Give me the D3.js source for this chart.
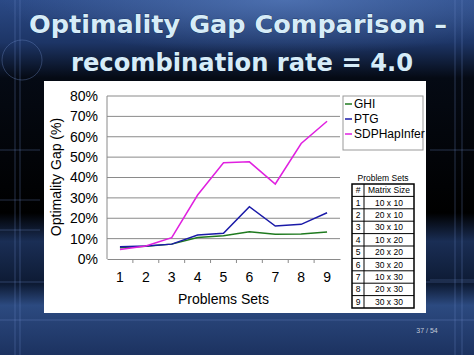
<!DOCTYPE html>
<html><head><meta charset="utf-8">
<script src="https://cdn.jsdelivr.net/npm/d3@7"></script>
<style>html,body{margin:0;padding:0;background:#000;}svg{display:block;}</style>
</head><body>
<svg id="c" width="474" height="355"></svg>
<script>
const categories = ["1","2","3","4","5","6","7","8","9"];
const seriesNames = ["GHI","PTG","SDPHapInfer"];
const ghi = [5.5, 6.3, 7.3, 10.6, 11.4, 13.4, 12.1, 12.3, 13.3];
const ptg = [6.0, 6.4, 7.3, 11.8, 12.6, 25.7, 16.2, 17.0, 22.7];
const sdp = [4.7, 6.4, 10.5, 31.4, 47.2, 47.7, 36.8, 56.7, 67.6];
const yTicks = [0, 10, 20, 30, 40, 50, 60, 70, 80];
const tableIds = ["1","2","3","4","5","6","7","8","9"];
const matrixSizes = ["10 x 10","20 x 10","30 x 10","10 x 20","20 x 20","30 x 20","10 x 30","20 x 30","30 x 30"];

const svg = d3.select("#c");
const W = 474, H = 355;
const defs = svg.append("defs");
const bg = defs.append("linearGradient").attr("id","bg").attr("x1",0).attr("y1",0).attr("x2",0).attr("y2",1);
[[0,"#2b4a86"],[0.12,"#1d3566"],[0.22,"#050a14"],[0.6,"#000000"],[0.68,"#1a2e55"],[0.8,"#0d1a33"],[0.86,"#2c4a80"],[1,"#1c3260"]]
  .forEach(s=>bg.append("stop").attr("offset",s[0]).attr("stop-color",s[1]));
svg.append("rect").attr("width",W).attr("height",H).attr("fill","url(#bg)");
const glow = defs.append("radialGradient").attr("id","glow").attr("cx",0.6).attr("cy",0).attr("r",0.6);
glow.append("stop").attr("offset",0).attr("stop-color","#5a7fc0").attr("stop-opacity",0.7);
glow.append("stop").attr("offset",1).attr("stop-color","#5a7fc0").attr("stop-opacity",0);
svg.append("rect").attr("width",W).attr("height",90).attr("fill","url(#glow)");
// faint decorative lines
const deco = svg.append("g").attr("stroke","#6f8cc8").attr("stroke-opacity",0.35).attr("stroke-width",1).attr("fill","none");
[15,20,455,462].forEach(x=>deco.append("line").attr("x1",x).attr("x2",x).attr("y1",0).attr("y2",H));
[[0,40,150],[0,40,200],[0,40,230],[430,474,150],[430,474,280],[0,474,282],[0,474,320]].forEach(l=>deco.append("line").attr("x1",l[0]).attr("x2",l[1]).attr("y1",l[2]).attr("y2",l[2]));
deco.append("circle").attr("cx",22).attr("cy",60).attr("r",20);

// title
const title = svg.append("g").attr("font-family","DejaVu Sans, Liberation Sans, Arial, sans-serif").attr("font-weight","bold")
  .attr("font-size",25).attr("fill","#d6ecf8").attr("text-anchor","middle")
  .attr("stroke","#0a1a3a").attr("stroke-width",0.6).attr("paint-order","stroke");
title.append("text").attr("x",238).attr("y",33).attr("textLength",418).attr("lengthAdjust","spacingAndGlyphs").text("Optimality Gap Comparison –");
title.append("text").attr("x",242).attr("y",71).attr("textLength",342).attr("lengthAdjust","spacingAndGlyphs").text("recombination rate = 4.0");

// panel
svg.append("rect").attr("x",44).attr("y",81).attr("width",382).attr("height",232).attr("fill","#ffffff");

const L = 107, R = 340, T = 96, B = 259;
const x = d3.scaleBand().domain(categories).range([L,R]);
const y = d3.scaleLinear().domain([0,80]).range([B,T]);
const font = "Liberation Sans, Arial, sans-serif";

// gridlines
svg.append("g").selectAll("line").data(yTicks.slice(1)).join("line")
  .attr("x1",L).attr("x2",R).attr("y1",d=>y(d)).attr("y2",d=>y(d))
  .attr("stroke","#8a8a8a").attr("stroke-width",1);
svg.append("line").attr("x1",L).attr("x2",L).attr("y1",T).attr("y2",B).attr("stroke","#8a8a8a");

// y axis
const ya = svg.append("g").attr("transform",`translate(${L},0)`)
  .call(d3.axisLeft(y).tickValues(yTicks).tickFormat(d=>d+"%").tickSize(0).tickPadding(9));
ya.select(".domain").remove();
ya.selectAll("text").attr("font-family",font).attr("font-size",14).attr("fill","#000");

// x axis
const xa = svg.append("g").attr("transform",`translate(0,${B})`)
  .call(d3.axisBottom(x).tickSize(0).tickPadding(13));
xa.select(".domain").attr("stroke","#8a8a8a");
xa.selectAll("text").attr("font-family",font).attr("font-size",14).attr("fill","#000");
xa.append("g").selectAll("line").data(categories.slice(1)).join("line")
  .attr("x1",d=>x(d)).attr("x2",d=>x(d)).attr("y1",0).attr("y2",4).attr("stroke","#8a8a8a");

svg.append("text").attr("x",(L+R)/2).attr("y",304).attr("text-anchor","middle")
  .attr("font-family",font).attr("font-size",14).text("Problems Sets");
svg.append("text").attr("transform","translate(61,177) rotate(-90)").attr("text-anchor","middle")
  .attr("font-family",font).attr("font-size",14).text("Optimality Gap (%)");

// lines
const colors = ["#1f7a1f","#1a1aa8","#e020e0"];
const data = [ghi, ptg, sdp];
const line = d3.line().x((d,i)=>x(categories[i])+x.bandwidth()/2).y(d=>y(d));
svg.append("g").selectAll("path").data(data).join("path")
  .attr("d",line).attr("fill","none").attr("stroke",(d,i)=>colors[i]).attr("stroke-width",1.5);

// legend
const lg = svg.append("g");
lg.append("rect").attr("x",343).attr("y",96).attr("width",80).attr("height",54).attr("fill","#fff").attr("stroke","#999");
seriesNames.forEach((n,i)=>{
  const yy = 104 + i*15;
  lg.append("line").attr("x1",345).attr("x2",352).attr("y1",yy).attr("y2",yy).attr("stroke",colors[i]).attr("stroke-width",1.5);
  lg.append("text").attr("x",354).attr("y",yy+4).attr("font-family",font).attr("font-size",12).text(n);
});

// table
const tg = svg.append("g").attr("font-family",font).attr("font-size",8.5).attr("fill","#000");
tg.append("text").attr("x",383).attr("y",181).attr("text-anchor","middle").text("Problem Sets");
const tL = 352, tR = 414, tT = 184, rowH = 12.4, cDiv = 364;
const rows = [["#","Matrix Size"]].concat(tableIds.map((d,i)=>[d, matrixSizes[i]]));
rows.forEach((r,i)=>{
  const yy = tT + i*rowH;
  tg.append("text").attr("x",(tL+cDiv)/2).attr("y",yy+rowH/2+3).attr("text-anchor","middle").text(r[0]);
  tg.append("text").attr("x",(cDiv+tR)/2).attr("y",yy+rowH/2+3).attr("text-anchor","middle").text(r[1]);
});
tg.append("g").selectAll("line").data(d3.range(1,rows.length)).join("line")
  .attr("x1",tL).attr("x2",tR).attr("y1",d=>tT+d*rowH).attr("y2",d=>tT+d*rowH).attr("stroke","#000").attr("stroke-width",1);
tg.append("line").attr("x1",cDiv).attr("x2",cDiv).attr("y1",tT).attr("y2",tT+rows.length*rowH).attr("stroke","#000");
tg.append("rect").attr("x",tL).attr("y",tT).attr("width",tR-tL).attr("height",rows.length*rowH).attr("fill","none").attr("stroke","#000").attr("stroke-width",1.5);

// page number
svg.append("text").attr("x",427).attr("y",333).attr("text-anchor","middle").attr("font-family",font)
  .attr("font-size",7).attr("fill","#c0c8d8").text("37 / 54");
</script>
</body></html>
